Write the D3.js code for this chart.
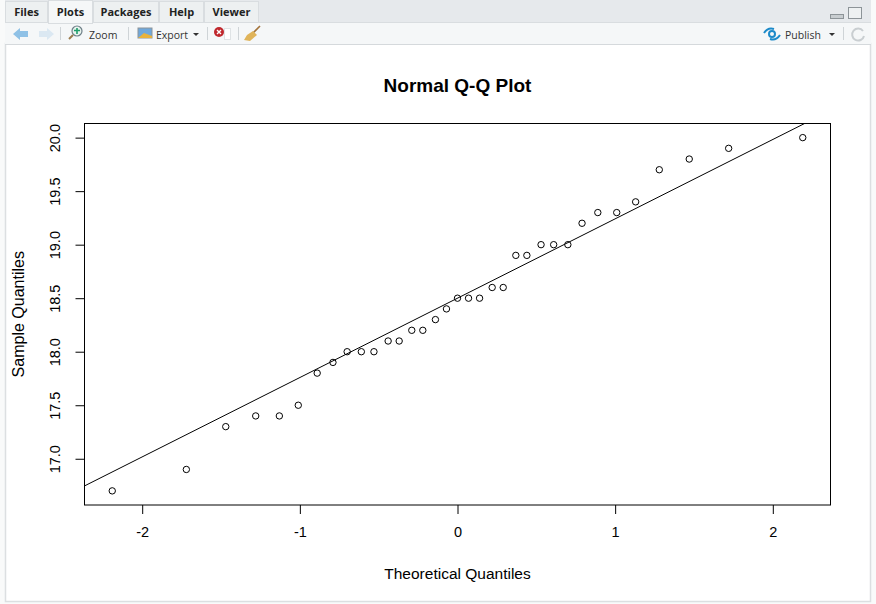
<!DOCTYPE html>
<html>
<head>
<meta charset="utf-8">
<script src="https://cdn.jsdelivr.net/npm/d3@7"></script>
<style>
  html, body { margin: 0; padding: 0; background: #fff; overflow: hidden; }
  svg { display: block; }
  .plot text { font-family: "Liberation Sans", Arial, sans-serif; fill: #000; }
  .ui text { font-family: "Open Sans", "Noto Sans", sans-serif; fill: #333; }
</style>
</head>
<body>
<div id="chart"></div>
<script>
// values
const theoretical = [-2.19, -1.72, -1.47, -1.28, -1.13, -1.01, -0.89, -0.79, -0.70, -0.61, -0.53, -0.44,
  -0.37, -0.29, -0.22, -0.14, -0.07, 0, 0.07, 0.14, 0.22, 0.29, 0.37, 0.44, 0.53, 0.61, 0.70, 0.79,
  0.89, 1.01, 1.13, 1.28, 1.47, 1.72, 2.19];
const sample = [16.7, 16.9, 17.3, 17.4, 17.4, 17.5, 17.8, 17.9, 18.0, 18.0, 18.0, 18.1,
  18.1, 18.2, 18.2, 18.3, 18.4, 18.5, 18.5, 18.5, 18.6, 18.6, 18.9, 18.9, 19.0, 19.0, 19.0, 19.2,
  19.3, 19.3, 19.4, 19.7, 19.8, 19.9, 20.0];
const xTicks = [-2, -1, 0, 1, 2];
const yTicks = [17, 17.5, 18, 18.5, 19, 19.5, 20];
const refLineX = [-0.6745, 0.6745];
const refLineY = [18.0, 19.0];
const tabNames = ['Files', 'Plots', 'Packages', 'Help', 'Viewer'];

const svg = d3.select('#chart').append('svg').attr('width', 876).attr('height', 604);

// ---- RStudio pane around the plot
const ui = svg.append('g').attr('class', 'ui');
ui.append('rect').attr('width', 876).attr('height', 604).attr('fill', '#f9fafa');
ui.append('rect').attr('x', 5).attr('y', 0).attr('width', 866).attr('height', 23).attr('fill', '#e6e9ec');
ui.append('rect').attr('x', 5.5).attr('y', 43.5).attr('width', 865).attr('height', 558)
  .attr('fill', '#fff').attr('stroke', '#dcdfe1').attr('stroke-width', 1.5);
ui.append('rect').attr('x', 5).attr('y', 23).attr('width', 866).attr('height', 21)
  .attr('fill', '#f5f7f8');
ui.append('line').attr('x1', 5).attr('x2', 871).attr('y1', 44.5).attr('y2', 44.5).attr('stroke', '#d5d9dc');
ui.append('line').attr('x1', 5).attr('x2', 871).attr('y1', 22.5).attr('y2', 22.5).attr('stroke', '#d9dde0');

const tabEdges = [5, 48, 93, 159, 204, 259];
tabNames.forEach((name, i) => {
  const active = name === 'Plots';
  ui.append('rect').attr('x', tabEdges[i] + 0.5).attr('y', active ? 0.5 : 1.5)
    .attr('width', tabEdges[i + 1] - tabEdges[i] - 1).attr('height', active ? 23 : 21)
    .attr('fill', active ? '#f5f7f8' : '#edf0f1').attr('stroke', '#d9dde0');
  ui.append('text').attr('x', (tabEdges[i] + tabEdges[i + 1]) / 2).attr('y', 16)
    .attr('text-anchor', 'middle').style('font-size', '11px').style('font-weight', 700)
    .style('fill', '#222').text(name);
});

// window buttons
ui.append('rect').attr('x', 830.5).attr('y', 14.5).attr('width', 13).attr('height', 4)
  .attr('fill', '#c8cdd0').attr('stroke', '#8d9498');
ui.append('rect').attr('x', 848.5).attr('y', 7.5).attr('width', 13).attr('height', 11)
  .attr('fill', '#eef1f2').attr('stroke', '#8d9498');

// toolbar icons, rough shapes
ui.append('path').attr('d', 'M13,34 l7,-6 v3 h8 v6 h-8 v3 z').attr('fill', '#8fc1e6');
ui.append('path').attr('d', 'M54,34 l-7,-6 v3 h-8 v6 h8 v3 z').attr('fill', '#dbe8f2');
ui.append('line').attr('x1', 60.5).attr('x2', 60.5).attr('y1', 27).attr('y2', 40).attr('stroke', '#cfd4d7');
ui.append('circle').attr('cx', 77).attr('cy', 31).attr('r', 5).attr('fill', '#e8f4ee').attr('stroke', '#6f7f88').attr('stroke-width', 1.2);
ui.append('path').attr('d', 'M74,30.500 h6 M77,28 v6').attr('stroke', '#1f9d6b').attr('stroke-width', 1.6);
ui.append('line').attr('x1', 73).attr('x2', 69).attr('y1', 35).attr('y2', 39).attr('stroke', '#9a7b4d').attr('stroke-width', 2);
ui.append('text').attr('x', 89).attr('y', 39).style('font-size', '10.500px').text('Zoom');
ui.append('line').attr('x1', 128.5).attr('x2', 128.5).attr('y1', 27).attr('y2', 40).attr('stroke', '#cfd4d7');
ui.append('rect').attr('x', 138).attr('y', 28).attr('width', 14).attr('height', 10).attr('fill', '#6fa8dc').attr('stroke', '#8d9498');
ui.append('path').attr('d', 'M138,38 l6,-5 l8,3 v2 z').attr('fill', '#e8b23c');
ui.append('text').attr('x', 156).attr('y', 39).style('font-size', '10.500px').text('Export');
ui.append('path').attr('d', 'M193,33 h6 l-3,3 z').attr('fill', '#333');
ui.append('line').attr('x1', 207.5).attr('x2', 207.5).attr('y1', 27).attr('y2', 40).attr('stroke', '#cfd4d7');
ui.append('circle').attr('cx', 219).attr('cy', 32).attr('r', 5).attr('fill', '#c0282d');
ui.append('path').attr('d', 'M217,30 l4,4 M221,30 l-4,4').attr('stroke', '#fff').attr('stroke-width', 1.4);
ui.append('rect').attr('x', 224.5).attr('y', 28.500).attr('width', 6).attr('height', 11).attr('fill', '#fff').attr('stroke', '#dfe3e5');
ui.append('line').attr('x1', 238.5).attr('x2', 238.5).attr('y1', 27).attr('y2', 40).attr('stroke', '#cfd4d7');
ui.append('line').attr('x1', 260).attr('x2', 253).attr('y1', 26).attr('y2', 33).attr('stroke', '#a3733a').attr('stroke-width', 1.6);
ui.append('path').attr('d', 'M247,35 l6,-4 l4,4 l-7,6 l-6,-1 z').attr('fill', '#e0b45a');
ui.append('circle').attr('cx', 772).attr('cy', 34).attr('r', 3).attr('fill', 'none').attr('stroke', '#1c8ac9').attr('stroke-width', 2);
ui.append('path').attr('d', 'M764,33 q4,-6 10,-4 M780,35 q-4,6 -10,4').attr('fill', 'none').attr('stroke', '#1c8ac9').attr('stroke-width', 2);
ui.append('text').attr('x', 785).attr('y', 39).style('font-size', '10.500px').text('Publish');
ui.append('path').attr('d', 'M829,33 h6 l-3,3 z').attr('fill', '#333');
ui.append('line').attr('x1', 843.5).attr('x2', 843.5).attr('y1', 27).attr('y2', 40).attr('stroke', '#cfd4d7');
ui.append('path').attr('d', 'M863,31 a6,6 0 1 0 1,5').attr('fill', 'none').attr('stroke', '#c9ced1').attr('stroke-width', 2);

// ---- the plot itself
const plotLeft = 84.5, plotRight = 830.5, plotTop = 123.5, plotBottom = 505;
const x = d3.scaleLinear().domain([-2.366, 2.366]).range([plotLeft, plotRight]);
const y = d3.scaleLinear().domain([16.568, 20.132]).range([plotBottom, plotTop]);

const plot = svg.append('g').attr('class', 'plot');

plot.append('clipPath').attr('id', 'plotClip').append('rect')
  .attr('x', plotLeft).attr('y', plotTop).attr('width', plotRight - plotLeft).attr('height', plotBottom - plotTop);

plot.append('rect').attr('x', plotLeft).attr('y', plotTop).attr('width', plotRight - plotLeft).attr('height', plotBottom - plotTop)
  .attr('fill', 'none').attr('stroke', '#000').attr('stroke-width', 1);

// R prints a plain hyphen for negative ticks, so no d3.format here
const xAxis = plot.append('g').attr('transform', `translate(0,${plotBottom})`)
  .call(d3.axisBottom(x).tickValues(xTicks).tickFormat(d => String(d)).tickSize(9).tickPadding(13));
xAxis.select('.domain').remove();
xAxis.selectAll('line').attr('stroke', '#000');
xAxis.selectAll('text').style('font-size', '14.500px').style('font-family', '"Liberation Sans", Arial, sans-serif').attr('fill', '#000');

const yAxis = plot.append('g').attr('transform', `translate(${plotLeft},0)`)
  .call(d3.axisLeft(y).tickValues(yTicks).tickFormat(d3.format('.1f')).tickSize(9).tickPadding(0));
yAxis.select('.domain').remove();
yAxis.selectAll('line').attr('stroke', '#000');
yAxis.selectAll('text')
  .style('font-size', '14.500px').style('font-family', '"Liberation Sans", Arial, sans-serif').attr('fill', '#000')
  .attr('text-anchor', 'middle').attr('dy', null).attr('x', null)
  .attr('transform', 'translate(-28,0) rotate(-90)')
  .attr('dominant-baseline', 'middle');

// qqline through the quartiles, extended to the plot edges
const slope = (refLineY[1] - refLineY[0]) / (refLineX[1] - refLineX[0]);
const atX = v => refLineY[0] + slope * (v - refLineX[0]);
plot.append('line').attr('clip-path', 'url(#plotClip)')
  .attr('x1', x(x.domain()[0])).attr('y1', y(atX(x.domain()[0])))
  .attr('x2', x(x.domain()[1])).attr('y2', y(atX(x.domain()[1])))
  .attr('stroke', '#000').attr('stroke-width', 1);

plot.selectAll('circle.pt').data(theoretical).join('circle')
  .attr('class', 'pt')
  .attr('cx', d => x(d))
  .attr('cy', (d, i) => y(sample[i]))
  .attr('r', 3.2)
  .attr('fill', 'none').attr('stroke', '#000').attr('stroke-width', 1);

plot.append('text').attr('x', (plotLeft + plotRight) / 2).attr('y', 92)
  .attr('text-anchor', 'middle').style('font-size', '19px').style('font-weight', 700)
  .text('Normal Q-Q Plot');
plot.append('text').attr('x', (plotLeft + plotRight) / 2).attr('y', 579)
  .attr('text-anchor', 'middle').style('font-size', '15.500px').text('Theoretical Quantiles');
plot.append('text').attr('transform', `translate(24,${(plotTop + plotBottom) / 2}) rotate(-90)`)
  .attr('text-anchor', 'middle').style('font-size', '16px').text('Sample Quantiles');
</script>
</body>
</html>
